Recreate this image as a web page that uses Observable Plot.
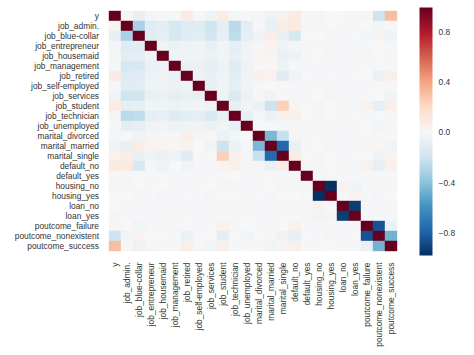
<!DOCTYPE html>
<html><head><meta charset="utf-8">
<script src="https://cdn.jsdelivr.net/npm/d3@7"></script>
<script src="https://cdn.jsdelivr.net/npm/@observablehq/plot@0.6"></script>
<style>
body{margin:0;background:#fff}
#chart{position:relative;width:474px;height:355px;overflow:hidden}
#chart svg{position:absolute;top:0}
</style>
</head><body><div id="chart"></div>
<script>
// Variables (row and column labels, top-to-bottom / left-to-right)
const variables = ["y","job_admin.","job_blue-collar","job_entrepreneur","job_housemaid","job_management","job_retired","job_self-employed","job_services","job_student","job_technician","job_unemployed","marital_divorced","marital_married","marital_single","default_no","default_yes","housing_no","housing_yes","loan_no","loan_yes","poutcome_failure","poutcome_nonexistent","poutcome_success"];

// Lower triangle of the correlation matrix: row i holds correlations with columns 0..i-1
const lower = [
  [],
  [0.03],
  [-0.075, -0.31],
  [-0.017, -0.11, -0.10],
  [-0.006, -0.095, -0.088, -0.031],
  [-0.001, -0.16, -0.15, -0.053, -0.045],
  [0.092, -0.12, -0.11, -0.040, -0.034, -0.058],
  [-0.004, -0.11, -0.10, -0.036, -0.031, -0.053, -0.040],
  [-0.032, -0.19, -0.18, -0.062, -0.053, -0.090, -0.068, -0.062],
  [0.094, -0.086, -0.079, -0.028, -0.024, -0.041, -0.031, -0.028, -0.048],
  [-0.006, -0.26, -0.24, -0.085, -0.072, -0.12, -0.093, -0.085, -0.14, -0.065],
  [0.015, -0.093, -0.086, -0.031, -0.026, -0.044, -0.033, -0.031, -0.052, -0.024, -0.071],
  [-0.010, 0.0, -0.03, -0.01, 0.03, 0.0, 0.07, -0.01, 0.02, -0.05, -0.01, 0.01],
  [-0.044, -0.07, 0.08, 0.04, 0.04, 0.03, 0.05, 0.01, -0.03, -0.20, -0.05, 0.0, -0.44],
  [0.054, 0.08, -0.07, -0.04, -0.06, -0.04, -0.11, 0.0, 0.02, 0.25, 0.06, -0.01, -0.22, -0.77],
  [0.099, 0.10, -0.16, -0.01, -0.04, 0.01, -0.03, 0.0, -0.01, 0.04, 0.07, -0.01, -0.01, -0.07, 0.08],
  [-0.003, -0.005, 0.0, 0.0, 0.0, 0.0, 0.0, 0.0, 0.0, 0.0, 0.01, 0.0, 0.0, 0.0, 0.0, -0.01],
  [-0.011, -0.01, 0.01, 0.0, 0.01, 0.0, 0.0, 0.0, 0.01, -0.01, -0.01, 0.0, 0.0, 0.01, -0.01, -0.01, 0.0],
  [0.012, 0.01, -0.01, 0.0, -0.01, 0.0, 0.0, 0.0, -0.01, 0.01, 0.01, 0.0, 0.0, -0.01, 0.01, 0.01, 0.0, -0.98],
  [0.005, 0.0, 0.0, 0.0, 0.0, 0.0, 0.0, 0.0, 0.0, 0.0, 0.0, 0.0, 0.0, 0.0, 0.0, 0.0, 0.0, 0.05, 0.0],
  [-0.005, 0.0, 0.0, 0.0, 0.0, 0.0, 0.0, 0.0, 0.0, 0.0, 0.0, 0.0, 0.0, 0.0, 0.0, 0.0, 0.0, -0.03, 0.04, -0.93],
  [0.032, 0.01, -0.02, 0.0, -0.01, 0.0, 0.01, 0.0, 0.0, 0.05, 0.0, 0.01, 0.0, -0.01, 0.01, 0.06, 0.0, 0.0, 0.0, 0.0, 0.0],
  [-0.193, -0.02, 0.04, 0.01, 0.01, 0.0, -0.06, 0.0, 0.01, -0.09, 0.0, -0.02, 0.0, 0.03, -0.04, -0.08, 0.0, 0.0, -0.01, 0.0, 0.0, -0.85],
  [0.316, 0.02, -0.04, -0.01, 0.0, 0.0, 0.07, 0.0, -0.02, 0.07, 0.0, 0.02, 0.0, -0.03, 0.04, 0.06, 0.0, 0.0, 0.01, 0.0, 0.0, -0.06, -0.46]
];

// Colour-bar tick values
const colorTicks = [-0.8, -0.4, 0.0, 0.4, 0.8];

// Build full symmetric table
const cells = [];
variables.forEach((a, i) => variables.forEach((b, j) => {
  const v = i === j ? 1 : (i > j ? lower[i][j] : lower[j][i]);
  cells.push({row: a, col: b, value: v});
}));
const vmin = d3.min(cells, d => d.value);
const vmax = d3.max(cells, d => d.value);

// matplotlib RdBu_r stops
const brewer = ["#053061","#2166ac","#4393c3","#92c5de","#d1e5f0","#f7f7f7","#fddbc7","#f4a582","#d6604d","#b2182b","#67001f"];
const colorScale = {type: "linear", domain: brewer.map((_, k) => vmin + k * (vmax - vmin) / 10), range: brewer, interpolate: "rgb", clamp: true};

const font = {fontFamily: "'Liberation Sans', Arial, sans-serif", fontSize: "8.4px", color: "#333", background: "transparent"};

const main = Plot.plot({
  width: 474, height: 355,
  marginLeft: 105, marginRight: 73, marginTop: 7, marginBottom: 100,
  style: font,
  x: {domain: variables, padding: 0, label: null},
  y: {domain: variables, padding: 0, label: null},
  color: colorScale,
  marks: [
    Plot.cell(cells, {x: "col", y: "row", fill: "value", stroke: "value", strokeWidth: 0.4, inset: 0}),
    Plot.axisX({anchor: "bottom", tickRotate: -90, tickSize: 0, tickPadding: 7, label: null}),
    Plot.axisY({anchor: "left", tickSize: 0, tickPadding: 6.5, label: null})
  ]
});
main.style.left = "0px";

const bar = Plot.plot({
  width: 55, height: 355,
  marginLeft: 0, marginRight: 42, marginTop: 7, marginBottom: 100,
  style: font,
  x: {domain: [0, 1], axis: null},
  y: {domain: [vmin, vmax]},
  color: colorScale,
  marks: [
    Plot.raster({x1: 0, x2: 1, y1: vmin, y2: vmax, fill: (x, y) => y, pixelSize: 1}),
    Plot.axisY({anchor: "right", ticks: colorTicks, tickFormat: ".1f", tickSize: 0, tickPadding: 6, label: null})
  ]
});
bar.style.left = "419px";

const chart = document.getElementById("chart");
chart.append(main, bar);
</script>
</body></html>
